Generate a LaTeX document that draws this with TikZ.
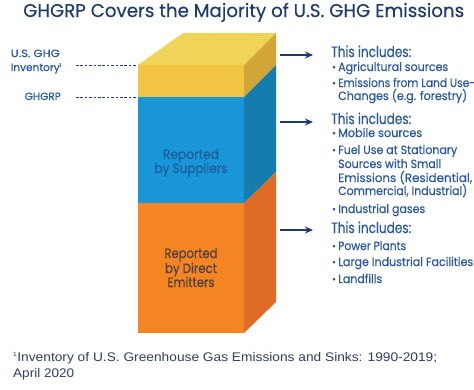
\documentclass[tikz,border=0pt]{standalone}
\usepackage{fontspec}
\usepackage{graphicx}
\setmainfont{Poppins}[FakeBold=0.35,BoldFont={Poppins},BoldFeatures={FakeBold=0.35}]
\newfontfamily\arialf{Liberation Sans}
\usetikzlibrary{arrows.meta}
\definecolor{navy}{HTML}{1F3B6E}
\definecolor{txtblue}{HTML}{2A58A0}
\definecolor{fncol}{HTML}{2E3E5E}
\definecolor{ytop}{HTML}{F0D457}
\definecolor{yfront}{HTML}{F2C443}
\definecolor{yside}{HTML}{D3A638}
\definecolor{bfront}{HTML}{1896D7}
\definecolor{bside}{HTML}{157CAE}
\definecolor{ofront}{HTML}{F58422}
\definecolor{oside}{HTML}{DE6C26}
\definecolor{suptxt}{HTML}{1D5F9C}
\definecolor{emtxt}{HTML}{4E4240}
\newcommand\fitw[2]{\resizebox{#1pt}{\height}{#2}}
\newcommand\bul{\llap{\raisebox{0.1ex}{\scalebox{0.8}{•}}\hspace{2.2pt}}}
\begin{document}
\begin{tikzpicture}[x=1pt,y=-1pt,
  head/.style={anchor=base west,inner sep=0pt,text=txtblue,font=\fontsize{15}{15}\selectfont},
  itm/.style={anchor=base west,inner sep=0pt,text=txtblue,font=\fontsize{12}{12}\selectfont},
  lbl/.style={anchor=base east,inner sep=0pt,text=txtblue,font=\fontsize{10.5}{10.5}\selectfont},
  boxtxt/.style={anchor=base,inner sep=0pt,font=\fontsize{13.5}{13.5}\selectfont},
  arr/.style={navy,line width=1.1pt,-{Stealth[length=8pt,width=7pt]}},
  dashline/.style={navy,line width=0.9pt,dash pattern=on 2.6pt off 1.8pt}
]
\useasboundingbox[fill=white] (0,0) rectangle (474,389);
% title
\node[anchor=base west,inner sep=0pt,text=navy,font=\fontsize{18.5}{18.5}\selectfont] (title) at (23,17) {\fitw{441}{GHGRP Covers the Majority of U.S. GHG Emissions}};
% box
\coordinate (ftl) at (138,65); \coordinate (ftr) at (244,65);
\coordinate (btl) at (183,33); \coordinate (btr) at (276,33);
\fill[ytop] (ftl) -- (btl) -- (btr) -- (ftr) -- cycle;
\fill[yfront] (138,65) rectangle (244,97);
\fill[bfront] (138,97) rectangle (244,203);
\fill[ofront] (138,203) rectangle (244,333);
\fill[yside] (244,65) -- (276,33) -- (276,65) -- (244,97) -- cycle;
\fill[bside] (244,97) -- (276,65) -- (276,172) -- (244,203) -- cycle;
\fill[oside] (244,203) -- (276,172) -- (276,302) -- (244,333) -- cycle;
\coordinate (inv) at (137,65);
\coordinate (ghg) at (137,97);
\node[boxtxt,text=suptxt] (s1) at (191,159) {\fitw{56}{Reported}};
\node[boxtxt,text=suptxt] (s2) at (191,173) {\fitw{73}{by Suppliers}};
\node[boxtxt,text=emtxt] (e1) at (191,258) {\fitw{53}{Reported}};
\node[boxtxt,text=emtxt] (e2) at (191,273) {\fitw{52}{by Direct}};
\node[boxtxt,text=emtxt] (e3) at (191,287) {\fitw{47}{Emitters}};
% left labels
\node[lbl] (l1) at (60,57) {\fitw{49}{U.S. GHG}};
\node[lbl] (l2) at (62,71) {\fitw{51}{Inventory\textsuperscript{\fontsize{5}{5}\selectfont 1}}};
\node[lbl] (l3) at (61,100) {\fitw{36}{GHGRP}};
\coordinate (d1) at (76,65); \coordinate (d2) at (76,97);
\draw[dashline] (d1) -- (inv);
\draw[dashline] (d2) -- (ghg);
% arrows
\coordinate (a1) at (280,55); \coordinate (t1) at (313,55);
\coordinate (a2) at (280,122); \coordinate (t2) at (313,122);
\coordinate (a3) at (280,230); \coordinate (t3) at (313,230);
\draw[arr] (a1) -- (t1);
\draw[arr] (a2) -- (t2);
\draw[arr] (a3) -- (t3);
% headings
\node[head] (h1) at (331,57) {\fitw{80}{This includes:}};
\node[head] (h2) at (331,124) {\fitw{80}{This includes:}};
\node[head] (h3) at (331,233) {\fitw{80}{This includes:}};
% items
\node[itm] (i11) at (338,71) {\bul\fitw{110}{Agricultural sources}};
\node[itm] (i12) at (338,87) {\bul\fitw{137}{Emissions from Land Use-}};
\node[itm] (i13) at (338,100) {\fitw{129}{Changes (e.g. forestry)}};
\node[itm] (i21) at (338,137) {\bul\fitw{84}{Mobile sources}};
\node[itm] (i22) at (338,154) {\bul\fitw{119}{Fuel Use at Stationary}};
\node[itm] (i23) at (338,168) {\fitw{103}{Sources with Small}};
\node[itm] (i24) at (338,182) {\fitw{134}{Emissions (Residential,}};
\node[itm] (i25) at (338,195) {\fitw{129}{Commercial, Industrial)}};
\node[itm] (i26) at (338,213) {\bul\fitw{87}{Industrial gases}};
\node[itm] (i31) at (338,250) {\bul\fitw{68}{Power Plants}};
\node[itm] (i32) at (338,266) {\bul\fitw{135}{Large Industrial Facilities}};
\node[itm] (i33) at (338,283) {\bul\fitw{44}{Landfills}};
% footnote
\node[anchor=base west,inner sep=0pt,text=fncol,font=\arialf\fontsize{12.5}{12.5}\selectfont] (fn1) at (13,361) {\fitw{424}{\textsuperscript{\fontsize{6}{6}\selectfont 1}Inventory of U.S. Greenhouse Gas Emissions and Sinks: 1990-2019;}};
\node[anchor=base west,inner sep=0pt,text=fncol,font=\arialf\fontsize{12.5}{12.5}\selectfont] (fn2) at (13,377) {\fitw{61}{April 2020}};
\end{tikzpicture}
\end{document}
